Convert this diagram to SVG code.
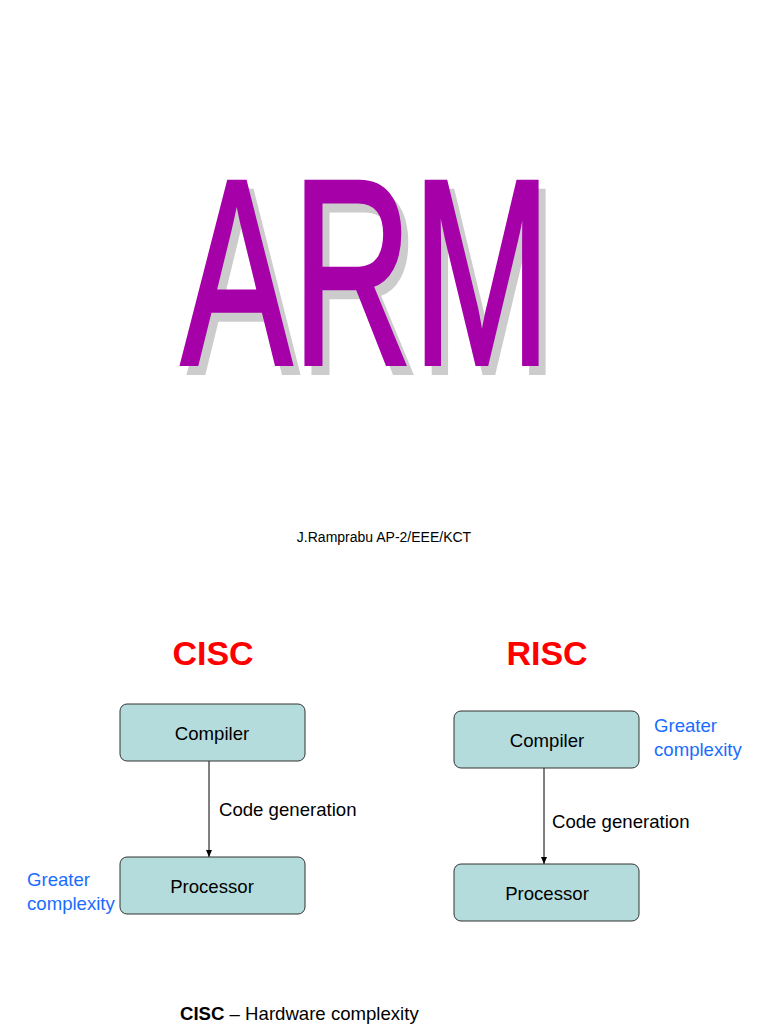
<svg xmlns="http://www.w3.org/2000/svg" width="768" height="1024" viewBox="0 0 768 1024">
<style>
.t{font-family:"Liberation Sans",Arial,sans-serif}
.box{fill:#b4dcdc;stroke:#333;stroke-width:1}
.lbl{font-size:18.6px;fill:#000}
.blue{font-size:18.6px;fill:#1a6cff}
.big{font-size:265px}
</style>
<defs><marker id="ah" markerWidth="8" markerHeight="8" refX="7" refY="4" orient="auto" markerUnits="userSpaceOnUse"><path d="M0,1 L7,4 L0,7 Z" fill="#000"/></marker></defs>
<rect width="768" height="1024" fill="#fff"/>
<text class="t big" x="188" y="373" fill="#cccccc" stroke="#cccccc" stroke-width="4" textLength="370" lengthAdjust="spacingAndGlyphs">ARM</text>
<text class="t big" x="181" y="364" fill="#a600a9" stroke="#a600a9" stroke-width="4" textLength="370" lengthAdjust="spacingAndGlyphs">ARM</text>
<text class="t" x="384" y="542" font-size="14" text-anchor="middle">J.Ramprabu AP-2/EEE/KCT</text>
<text class="t" x="213" y="665" font-size="34" font-weight="bold" fill="#ff0000" text-anchor="middle">CISC</text>
<text class="t" x="547" y="665" font-size="34" font-weight="bold" fill="#ff0000" text-anchor="middle">RISC</text>
<g id="connectors">
<line x1="209" y1="761" x2="209" y2="857" stroke="#000" marker-end="url(#ah)"/>
<line x1="544" y1="768" x2="544" y2="864" stroke="#000" marker-end="url(#ah)"/>
</g>
<g id="cisc-compiler"><rect class="box" x="120" y="704" width="185" height="57" rx="7"/><text class="t lbl" x="212" y="740" text-anchor="middle">Compiler</text></g>
<g id="cisc-processor"><rect class="box" x="120" y="857" width="185" height="57" rx="7"/><text class="t lbl" x="212" y="893" text-anchor="middle">Processor</text></g>
<g id="risc-compiler"><rect class="box" x="454" y="711" width="185" height="57" rx="7"/><text class="t lbl" x="547" y="747" text-anchor="middle">Compiler</text></g>
<g id="risc-processor"><rect class="box" x="454" y="864" width="185" height="57" rx="7"/><text class="t lbl" x="547" y="900" text-anchor="middle">Processor</text></g>
<text class="t lbl" x="219" y="816">Code generation</text>
<text class="t lbl" x="552" y="828">Code generation</text>
<text class="t blue" x="27" y="886">Greater</text>
<text class="t blue" x="27" y="910">complexity</text>
<text class="t blue" x="654" y="732">Greater</text>
<text class="t blue" x="654" y="756">complexity</text>
<text class="t" x="180" y="1020" font-size="18.6"><tspan font-weight="bold">CISC</tspan> – Hardware complexity</text>
</svg>
